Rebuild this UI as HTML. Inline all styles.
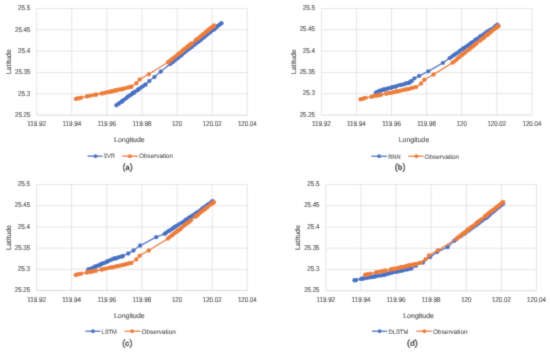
<!DOCTYPE html>
<html><head><meta charset="utf-8"><title>Trajectory prediction comparison</title>
<style>
html,body{margin:0;padding:0;background:#fff;}
body{width:550px;height:353px;overflow:hidden;}
svg{display:block;font-family:'Liberation Sans', Arial, sans-serif;text-rendering:geometricPrecision;}
</style></head>
<body>
<svg width="550" height="353" viewBox="0 0 550 353">
<defs><filter id="soft" x="0" y="0" width="550" height="353" filterUnits="userSpaceOnUse"><feConvolveMatrix order="3" kernelMatrix="1 2 1 2 16 2 1 2 1" divisor="28" edgeMode="duplicate"/></filter></defs>
<rect width="550" height="353" fill="#fff"/>
<g filter="url(#soft)">
<rect width="550" height="353" fill="#fff"/>
<g stroke="#DEDEDE" stroke-width="0.8"><line x1="36.70" y1="8.45" x2="36.70" y2="115.20"/><line x1="71.80" y1="8.45" x2="71.80" y2="115.20"/><line x1="106.90" y1="8.45" x2="106.90" y2="115.20"/><line x1="142.00" y1="8.45" x2="142.00" y2="115.20"/><line x1="177.10" y1="8.45" x2="177.10" y2="115.20"/><line x1="212.20" y1="8.45" x2="212.20" y2="115.20"/><line x1="247.30" y1="8.45" x2="247.30" y2="115.20"/><line x1="36.70" y1="8.45" x2="247.30" y2="8.45"/><line x1="36.70" y1="29.80" x2="247.30" y2="29.80"/><line x1="36.70" y1="51.15" x2="247.30" y2="51.15"/><line x1="36.70" y1="72.50" x2="247.30" y2="72.50"/><line x1="36.70" y1="93.85" x2="247.30" y2="93.85"/><line x1="36.70" y1="115.20" x2="247.30" y2="115.20" stroke="#D0D0D0"/></g>
<text x="18.00" y="10.15" font-size="7.2" text-anchor="start" fill="#4d4d4d" font-weight="normal" textLength="12.30" lengthAdjust="spacingAndGlyphs" stroke="#4d4d4d" stroke-width="0.15">25.5</text>
<text x="15.00" y="31.50" font-size="7.2" text-anchor="start" fill="#4d4d4d" font-weight="normal" textLength="15.30" lengthAdjust="spacingAndGlyphs" stroke="#4d4d4d" stroke-width="0.15">25.45</text>
<text x="18.00" y="52.85" font-size="7.2" text-anchor="start" fill="#4d4d4d" font-weight="normal" textLength="12.30" lengthAdjust="spacingAndGlyphs" stroke="#4d4d4d" stroke-width="0.15">25.4</text>
<text x="15.00" y="74.20" font-size="7.2" text-anchor="start" fill="#4d4d4d" font-weight="normal" textLength="15.30" lengthAdjust="spacingAndGlyphs" stroke="#4d4d4d" stroke-width="0.15">25.35</text>
<text x="18.00" y="95.55" font-size="7.2" text-anchor="start" fill="#4d4d4d" font-weight="normal" textLength="12.30" lengthAdjust="spacingAndGlyphs" stroke="#4d4d4d" stroke-width="0.15">25.3</text>
<text x="15.00" y="116.90" font-size="7.2" text-anchor="start" fill="#4d4d4d" font-weight="normal" textLength="15.30" lengthAdjust="spacingAndGlyphs" stroke="#4d4d4d" stroke-width="0.15">25.25</text>
<text x="27.30" y="126.40" font-size="7.2" text-anchor="start" fill="#4d4d4d" font-weight="normal" textLength="18.80" lengthAdjust="spacingAndGlyphs" stroke="#4d4d4d" stroke-width="0.15">119.92</text>
<text x="62.40" y="126.40" font-size="7.2" text-anchor="start" fill="#4d4d4d" font-weight="normal" textLength="18.80" lengthAdjust="spacingAndGlyphs" stroke="#4d4d4d" stroke-width="0.15">119.94</text>
<text x="97.50" y="126.40" font-size="7.2" text-anchor="start" fill="#4d4d4d" font-weight="normal" textLength="18.80" lengthAdjust="spacingAndGlyphs" stroke="#4d4d4d" stroke-width="0.15">119.96</text>
<text x="132.60" y="126.40" font-size="7.2" text-anchor="start" fill="#4d4d4d" font-weight="normal" textLength="18.80" lengthAdjust="spacingAndGlyphs" stroke="#4d4d4d" stroke-width="0.15">119.98</text>
<text x="171.95" y="126.40" font-size="7.2" text-anchor="start" fill="#4d4d4d" font-weight="normal" textLength="10.30" lengthAdjust="spacingAndGlyphs" stroke="#4d4d4d" stroke-width="0.15">120</text>
<text x="202.80" y="126.40" font-size="7.2" text-anchor="start" fill="#4d4d4d" font-weight="normal" textLength="18.80" lengthAdjust="spacingAndGlyphs" stroke="#4d4d4d" stroke-width="0.15">120.02</text>
<text x="237.90" y="126.40" font-size="7.2" text-anchor="start" fill="#4d4d4d" font-weight="normal" textLength="18.80" lengthAdjust="spacingAndGlyphs" stroke="#4d4d4d" stroke-width="0.15">120.04</text>
<text x="129.40" y="142.12" font-size="7.0" text-anchor="middle" fill="#4d4d4d" font-weight="normal" stroke="#4d4d4d" stroke-width="0.15">Longitude</text>
<text x="0" y="0" font-size="7.0" text-anchor="middle" fill="#4d4d4d" stroke="#4d4d4d" stroke-width="0.15" transform="translate(11.10,61.83) rotate(-90)">Latitude</text>
<polyline points="116.38,105.25 118.83,103.46 121.82,101.41 133.22,92.95 145.51,84.41 149.37,81.00 154.46,77.07 160.78,71.52 170.08,64.09 221.50,23.14" fill="none" stroke="#4472C4" stroke-width="1.4" stroke-linejoin="round"/>
<g fill="#4472C4"><circle cx="116.38" cy="105.25" r="2.20"/><circle cx="118.83" cy="103.46" r="2.20"/><circle cx="119.50" cy="103.16" r="2.03"/><circle cx="121.18" cy="102.00" r="2.10"/><circle cx="121.82" cy="101.41" r="2.20"/><circle cx="122.36" cy="101.22" r="2.19"/><circle cx="123.18" cy="100.16" r="2.05"/><circle cx="124.80" cy="99.37" r="1.98"/><circle cx="125.61" cy="98.46" r="2.04"/><circle cx="126.57" cy="98.08" r="1.98"/><circle cx="127.63" cy="96.86" r="2.16"/><circle cx="128.33" cy="96.34" r="2.09"/><circle cx="130.20" cy="95.26" r="2.16"/><circle cx="131.44" cy="94.54" r="1.98"/><circle cx="131.93" cy="93.96" r="2.08"/><circle cx="132.61" cy="93.18" r="2.11"/><circle cx="133.22" cy="92.95" r="2.20"/><circle cx="133.88" cy="92.75" r="2.24"/><circle cx="134.42" cy="91.86" r="2.16"/><circle cx="135.80" cy="91.30" r="1.92"/><circle cx="137.58" cy="90.05" r="2.21"/><circle cx="138.16" cy="89.54" r="2.19"/><circle cx="138.84" cy="89.14" r="2.09"/><circle cx="140.12" cy="88.19" r="2.04"/><circle cx="141.69" cy="87.04" r="2.12"/><circle cx="143.33" cy="85.98" r="2.00"/><circle cx="145.17" cy="84.91" r="1.98"/><circle cx="145.51" cy="84.41" r="2.20"/><circle cx="149.37" cy="81.00" r="2.20"/><circle cx="154.46" cy="77.07" r="2.20"/><circle cx="160.78" cy="71.52" r="2.20"/><circle cx="170.08" cy="64.09" r="2.20"/><circle cx="170.73" cy="63.58" r="2.08"/><circle cx="172.57" cy="62.22" r="2.10"/><circle cx="173.32" cy="61.50" r="2.21"/><circle cx="174.43" cy="60.35" r="2.00"/><circle cx="175.17" cy="60.05" r="2.22"/><circle cx="176.64" cy="58.60" r="2.20"/><circle cx="177.77" cy="58.20" r="2.03"/><circle cx="179.13" cy="56.89" r="1.96"/><circle cx="180.40" cy="56.08" r="2.05"/><circle cx="181.48" cy="54.98" r="2.23"/><circle cx="182.27" cy="54.36" r="2.17"/><circle cx="183.84" cy="53.06" r="2.00"/><circle cx="185.44" cy="51.68" r="2.22"/><circle cx="187.07" cy="50.28" r="1.99"/><circle cx="187.92" cy="49.74" r="2.12"/><circle cx="189.50" cy="48.61" r="1.95"/><circle cx="190.07" cy="48.04" r="2.01"/><circle cx="190.75" cy="47.42" r="2.10"/><circle cx="191.98" cy="46.73" r="2.19"/><circle cx="192.55" cy="45.99" r="1.99"/><circle cx="194.29" cy="45.00" r="1.96"/><circle cx="195.00" cy="44.19" r="1.90"/><circle cx="196.07" cy="43.42" r="2.08"/><circle cx="197.86" cy="42.09" r="2.22"/><circle cx="198.87" cy="41.22" r="2.16"/><circle cx="200.69" cy="39.92" r="2.22"/><circle cx="201.46" cy="39.03" r="2.09"/><circle cx="202.89" cy="38.13" r="2.05"/><circle cx="204.66" cy="36.82" r="2.20"/><circle cx="206.24" cy="35.29" r="2.07"/><circle cx="206.97" cy="34.54" r="2.22"/><circle cx="207.81" cy="33.88" r="2.12"/><circle cx="209.16" cy="32.73" r="2.18"/><circle cx="210.39" cy="32.14" r="2.12"/><circle cx="212.03" cy="30.50" r="2.05"/><circle cx="213.47" cy="29.77" r="2.17"/><circle cx="214.59" cy="28.88" r="2.19"/><circle cx="216.25" cy="27.60" r="2.14"/><circle cx="217.41" cy="26.26" r="2.24"/><circle cx="219.22" cy="24.93" r="2.09"/><circle cx="220.14" cy="24.27" r="2.08"/><circle cx="220.85" cy="23.52" r="1.93"/><circle cx="221.50" cy="23.14" r="2.20"/></g>
<polyline points="75.84,98.89 82.51,97.31 86.72,96.41 96.37,94.45 101.46,93.42 112.69,91.03 122.69,88.85 131.47,86.76 136.38,83.18 139.72,79.42 148.84,74.21 167.97,62.25 193.07,42.18 195.53,40.26 213.95,25.53" fill="none" stroke="#ED7D31" stroke-width="1.4" stroke-linejoin="round"/>
<g fill="#ED7D31"><circle cx="75.84" cy="98.89" r="2.20"/><circle cx="76.86" cy="98.48" r="1.91"/><circle cx="77.84" cy="98.24" r="2.10"/><circle cx="79.31" cy="98.26" r="2.23"/><circle cx="81.30" cy="97.73" r="2.14"/><circle cx="86.72" cy="96.41" r="2.20"/><circle cx="87.84" cy="96.18" r="2.07"/><circle cx="89.40" cy="95.91" r="2.07"/><circle cx="91.18" cy="95.39" r="1.98"/><circle cx="93.21" cy="95.15" r="1.97"/><circle cx="95.15" cy="94.71" r="2.21"/><circle cx="96.37" cy="94.45" r="2.20"/><circle cx="101.46" cy="93.42" r="2.20"/><circle cx="102.84" cy="93.34" r="2.14"/><circle cx="104.79" cy="92.88" r="2.03"/><circle cx="105.90" cy="92.56" r="2.03"/><circle cx="107.05" cy="92.20" r="2.11"/><circle cx="108.67" cy="92.07" r="2.24"/><circle cx="110.37" cy="91.65" r="2.16"/><circle cx="111.35" cy="91.48" r="2.20"/><circle cx="112.69" cy="91.03" r="2.20"/><circle cx="113.43" cy="90.81" r="2.05"/><circle cx="115.22" cy="90.45" r="2.21"/><circle cx="116.04" cy="90.48" r="2.22"/><circle cx="117.14" cy="89.90" r="2.18"/><circle cx="119.34" cy="89.51" r="2.22"/><circle cx="121.25" cy="89.23" r="2.04"/><circle cx="121.97" cy="89.20" r="2.19"/><circle cx="122.69" cy="88.85" r="2.20"/><circle cx="123.45" cy="88.84" r="2.23"/><circle cx="125.06" cy="88.21" r="1.98"/><circle cx="127.23" cy="87.65" r="2.09"/><circle cx="128.71" cy="87.34" r="1.96"/><circle cx="129.44" cy="87.37" r="2.11"/><circle cx="130.95" cy="86.66" r="2.22"/><circle cx="131.47" cy="86.76" r="2.20"/><circle cx="136.38" cy="83.18" r="2.20"/><circle cx="139.72" cy="79.42" r="2.20"/><circle cx="148.84" cy="74.21" r="2.20"/><circle cx="167.97" cy="62.25" r="2.20"/><circle cx="168.49" cy="61.78" r="2.02"/><circle cx="169.81" cy="60.80" r="1.95"/><circle cx="171.27" cy="59.62" r="2.15"/><circle cx="172.26" cy="58.95" r="2.00"/><circle cx="173.00" cy="58.29" r="2.09"/><circle cx="174.60" cy="57.02" r="1.95"/><circle cx="176.15" cy="55.76" r="1.94"/><circle cx="177.77" cy="54.24" r="2.11"/><circle cx="178.62" cy="53.95" r="2.00"/><circle cx="179.62" cy="53.21" r="2.07"/><circle cx="181.26" cy="51.72" r="2.23"/><circle cx="182.03" cy="51.23" r="2.01"/><circle cx="183.30" cy="49.74" r="2.00"/><circle cx="183.96" cy="49.20" r="2.19"/><circle cx="185.78" cy="47.84" r="1.95"/><circle cx="187.24" cy="46.75" r="2.23"/><circle cx="188.13" cy="46.15" r="2.09"/><circle cx="189.02" cy="45.49" r="1.93"/><circle cx="189.55" cy="44.89" r="2.05"/><circle cx="190.38" cy="44.59" r="2.23"/><circle cx="191.18" cy="43.86" r="2.24"/><circle cx="192.12" cy="43.14" r="1.95"/><circle cx="195.53" cy="40.26" r="2.20"/><circle cx="196.65" cy="39.32" r="2.06"/><circle cx="197.75" cy="38.50" r="2.00"/><circle cx="198.67" cy="38.02" r="2.14"/><circle cx="200.44" cy="36.56" r="2.17"/><circle cx="201.26" cy="35.43" r="1.98"/><circle cx="202.54" cy="34.67" r="1.95"/><circle cx="203.19" cy="34.07" r="2.10"/><circle cx="204.73" cy="32.95" r="2.03"/><circle cx="205.39" cy="32.44" r="2.12"/><circle cx="206.82" cy="31.31" r="2.18"/><circle cx="207.55" cy="30.66" r="2.04"/><circle cx="208.33" cy="29.90" r="2.03"/><circle cx="208.96" cy="29.54" r="2.17"/><circle cx="210.34" cy="28.15" r="2.08"/><circle cx="211.69" cy="27.24" r="2.01"/><circle cx="212.59" cy="26.84" r="2.22"/><circle cx="213.58" cy="25.95" r="2.00"/><circle cx="213.95" cy="25.53" r="2.20"/></g>
<line x1="87.6" y1="156.2" x2="102.4" y2="156.2" stroke="#4472C4" stroke-width="1.4"/>
<circle cx="95.5" cy="156.2" r="2.0" fill="#4472C4"/>
<text x="103.60" y="158.44" font-size="6.3" text-anchor="start" fill="#4d4d4d" font-weight="normal" textLength="11.30" lengthAdjust="spacingAndGlyphs" stroke="#4d4d4d" stroke-width="0.1">SVR</text>
<line x1="122.2" y1="156.2" x2="137.8" y2="156.2" stroke="#ED7D31" stroke-width="1.4"/>
<circle cx="130.0" cy="156.2" r="2.0" fill="#ED7D31"/>
<text x="139.10" y="158.44" font-size="6.3" text-anchor="start" fill="#4d4d4d" font-weight="normal" textLength="34.00" lengthAdjust="spacingAndGlyphs" stroke="#4d4d4d" stroke-width="0.1">Observation</text>
<text y="170.25" font-size="9" fill="#404040" stroke="#404040" stroke-width="0.4"><tspan x="122.40">(</tspan><tspan x="125.23" dy="-0.1" font-size="8.0" font-weight="bold" stroke-width="0.2">a</tspan><tspan x="129.72" dy="0.1">)</tspan></text>
<g stroke="#DEDEDE" stroke-width="0.8"><line x1="321.40" y1="8.45" x2="321.40" y2="115.10"/><line x1="356.48" y1="8.45" x2="356.48" y2="115.10"/><line x1="391.57" y1="8.45" x2="391.57" y2="115.10"/><line x1="426.65" y1="8.45" x2="426.65" y2="115.10"/><line x1="461.73" y1="8.45" x2="461.73" y2="115.10"/><line x1="496.82" y1="8.45" x2="496.82" y2="115.10"/><line x1="531.90" y1="8.45" x2="531.90" y2="115.10"/><line x1="321.40" y1="8.45" x2="531.90" y2="8.45"/><line x1="321.40" y1="29.78" x2="531.90" y2="29.78"/><line x1="321.40" y1="51.11" x2="531.90" y2="51.11"/><line x1="321.40" y1="72.44" x2="531.90" y2="72.44"/><line x1="321.40" y1="93.77" x2="531.90" y2="93.77"/><line x1="321.40" y1="115.10" x2="531.90" y2="115.10" stroke="#D0D0D0"/></g>
<text x="302.70" y="10.15" font-size="7.2" text-anchor="start" fill="#4d4d4d" font-weight="normal" textLength="12.30" lengthAdjust="spacingAndGlyphs" stroke="#4d4d4d" stroke-width="0.15">25.5</text>
<text x="299.70" y="31.48" font-size="7.2" text-anchor="start" fill="#4d4d4d" font-weight="normal" textLength="15.30" lengthAdjust="spacingAndGlyphs" stroke="#4d4d4d" stroke-width="0.15">25.45</text>
<text x="302.70" y="52.81" font-size="7.2" text-anchor="start" fill="#4d4d4d" font-weight="normal" textLength="12.30" lengthAdjust="spacingAndGlyphs" stroke="#4d4d4d" stroke-width="0.15">25.4</text>
<text x="299.70" y="74.14" font-size="7.2" text-anchor="start" fill="#4d4d4d" font-weight="normal" textLength="15.30" lengthAdjust="spacingAndGlyphs" stroke="#4d4d4d" stroke-width="0.15">25.35</text>
<text x="302.70" y="95.47" font-size="7.2" text-anchor="start" fill="#4d4d4d" font-weight="normal" textLength="12.30" lengthAdjust="spacingAndGlyphs" stroke="#4d4d4d" stroke-width="0.15">25.3</text>
<text x="299.70" y="116.80" font-size="7.2" text-anchor="start" fill="#4d4d4d" font-weight="normal" textLength="15.30" lengthAdjust="spacingAndGlyphs" stroke="#4d4d4d" stroke-width="0.15">25.25</text>
<text x="312.00" y="126.30" font-size="7.2" text-anchor="start" fill="#4d4d4d" font-weight="normal" textLength="18.80" lengthAdjust="spacingAndGlyphs" stroke="#4d4d4d" stroke-width="0.15">119.92</text>
<text x="347.08" y="126.30" font-size="7.2" text-anchor="start" fill="#4d4d4d" font-weight="normal" textLength="18.80" lengthAdjust="spacingAndGlyphs" stroke="#4d4d4d" stroke-width="0.15">119.94</text>
<text x="382.17" y="126.30" font-size="7.2" text-anchor="start" fill="#4d4d4d" font-weight="normal" textLength="18.80" lengthAdjust="spacingAndGlyphs" stroke="#4d4d4d" stroke-width="0.15">119.96</text>
<text x="417.25" y="126.30" font-size="7.2" text-anchor="start" fill="#4d4d4d" font-weight="normal" textLength="18.80" lengthAdjust="spacingAndGlyphs" stroke="#4d4d4d" stroke-width="0.15">119.98</text>
<text x="456.58" y="126.30" font-size="7.2" text-anchor="start" fill="#4d4d4d" font-weight="normal" textLength="10.30" lengthAdjust="spacingAndGlyphs" stroke="#4d4d4d" stroke-width="0.15">120</text>
<text x="487.42" y="126.30" font-size="7.2" text-anchor="start" fill="#4d4d4d" font-weight="normal" textLength="18.80" lengthAdjust="spacingAndGlyphs" stroke="#4d4d4d" stroke-width="0.15">120.02</text>
<text x="522.50" y="126.30" font-size="7.2" text-anchor="start" fill="#4d4d4d" font-weight="normal" textLength="18.80" lengthAdjust="spacingAndGlyphs" stroke="#4d4d4d" stroke-width="0.15">120.04</text>
<text x="414.05" y="142.02" font-size="7.0" text-anchor="middle" fill="#4d4d4d" font-weight="normal" stroke="#4d4d4d" stroke-width="0.15">Longitude</text>
<text x="0" y="0" font-size="7.0" text-anchor="middle" fill="#4d4d4d" stroke="#4d4d4d" stroke-width="0.15" transform="translate(295.80,61.77) rotate(-90)">Latitude</text>
<polyline points="375.78,92.63 383.15,89.69 392.09,87.26 400.69,84.96 408.41,82.99 411.56,81.16 414.37,78.34 419.28,75.87 428.23,71.35 442.96,62.86 449.63,58.08 478.22,38.16 479.80,37.05 497.34,24.80" fill="none" stroke="#4472C4" stroke-width="1.4" stroke-linejoin="round"/>
<g fill="#4472C4"><circle cx="375.78" cy="92.63" r="2.20"/><circle cx="376.66" cy="92.44" r="2.02"/><circle cx="377.34" cy="92.00" r="2.15"/><circle cx="378.93" cy="91.17" r="2.07"/><circle cx="379.87" cy="90.78" r="2.24"/><circle cx="381.62" cy="90.24" r="2.17"/><circle cx="383.15" cy="89.69" r="2.20"/><circle cx="383.62" cy="89.51" r="2.01"/><circle cx="384.41" cy="89.46" r="2.20"/><circle cx="385.85" cy="89.11" r="2.09"/><circle cx="387.11" cy="88.64" r="2.18"/><circle cx="388.20" cy="88.32" r="1.94"/><circle cx="389.73" cy="87.99" r="2.04"/><circle cx="390.59" cy="87.84" r="2.17"/><circle cx="392.09" cy="87.26" r="2.20"/><circle cx="392.80" cy="87.30" r="2.07"/><circle cx="393.67" cy="86.74" r="1.93"/><circle cx="395.67" cy="86.50" r="2.22"/><circle cx="397.40" cy="85.85" r="2.03"/><circle cx="399.05" cy="85.17" r="1.92"/><circle cx="400.69" cy="84.96" r="2.20"/><circle cx="401.58" cy="84.95" r="2.14"/><circle cx="402.28" cy="84.60" r="1.91"/><circle cx="404.45" cy="84.09" r="2.17"/><circle cx="405.62" cy="83.49" r="2.16"/><circle cx="407.39" cy="83.18" r="1.97"/><circle cx="408.41" cy="82.99" r="2.20"/><circle cx="409.19" cy="82.63" r="2.21"/><circle cx="410.60" cy="81.53" r="2.20"/><circle cx="411.56" cy="81.16" r="2.20"/><circle cx="414.37" cy="78.34" r="2.20"/><circle cx="419.28" cy="75.87" r="2.20"/><circle cx="428.23" cy="71.35" r="2.20"/><circle cx="442.96" cy="62.86" r="2.20"/><circle cx="449.63" cy="58.08" r="2.20"/><circle cx="450.86" cy="57.31" r="1.93"/><circle cx="451.58" cy="56.87" r="1.94"/><circle cx="453.16" cy="55.47" r="2.06"/><circle cx="454.13" cy="55.03" r="2.13"/><circle cx="455.04" cy="54.30" r="2.07"/><circle cx="456.56" cy="53.47" r="2.05"/><circle cx="457.17" cy="53.05" r="2.15"/><circle cx="457.91" cy="52.40" r="1.92"/><circle cx="459.68" cy="50.94" r="2.16"/><circle cx="460.82" cy="50.34" r="2.09"/><circle cx="462.64" cy="49.00" r="2.19"/><circle cx="463.84" cy="48.09" r="2.19"/><circle cx="464.53" cy="47.52" r="2.01"/><circle cx="465.88" cy="46.80" r="1.97"/><circle cx="466.44" cy="46.35" r="1.92"/><circle cx="467.84" cy="45.64" r="2.19"/><circle cx="468.49" cy="45.00" r="2.02"/><circle cx="470.11" cy="43.87" r="2.04"/><circle cx="470.95" cy="43.04" r="2.12"/><circle cx="471.97" cy="42.61" r="2.23"/><circle cx="472.98" cy="41.90" r="2.15"/><circle cx="474.33" cy="41.13" r="1.91"/><circle cx="475.27" cy="40.03" r="2.19"/><circle cx="476.92" cy="39.21" r="2.09"/><circle cx="477.32" cy="38.56" r="2.05"/><circle cx="479.80" cy="37.05" r="2.20"/><circle cx="480.24" cy="36.57" r="2.24"/><circle cx="481.54" cy="35.93" r="2.14"/><circle cx="483.32" cy="34.75" r="2.21"/><circle cx="484.41" cy="34.10" r="2.21"/><circle cx="485.31" cy="33.05" r="1.95"/><circle cx="486.11" cy="32.55" r="1.96"/><circle cx="487.28" cy="31.77" r="2.15"/><circle cx="488.71" cy="30.62" r="1.92"/><circle cx="490.24" cy="29.85" r="2.20"/><circle cx="491.67" cy="28.95" r="1.93"/><circle cx="493.34" cy="27.83" r="1.91"/><circle cx="494.24" cy="27.21" r="1.97"/><circle cx="495.35" cy="25.96" r="1.96"/><circle cx="496.53" cy="25.58" r="1.97"/><circle cx="497.34" cy="24.80" r="2.20"/></g>
<polyline points="360.52,99.20 367.18,97.63 371.39,96.73 381.04,94.77 386.13,93.74 397.36,91.35 407.35,89.18 416.13,87.09 421.04,83.51 424.37,79.75 433.49,74.55 452.61,62.60 477.70,42.55 480.15,40.63 498.57,25.91" fill="none" stroke="#ED7D31" stroke-width="1.4" stroke-linejoin="round"/>
<g fill="#ED7D31"><circle cx="360.52" cy="99.20" r="2.20"/><circle cx="361.08" cy="99.17" r="1.94"/><circle cx="362.90" cy="98.63" r="1.92"/><circle cx="364.03" cy="98.34" r="2.22"/><circle cx="365.95" cy="97.70" r="2.07"/><circle cx="371.39" cy="96.73" r="2.20"/><circle cx="372.68" cy="96.40" r="2.01"/><circle cx="374.32" cy="95.95" r="2.14"/><circle cx="376.61" cy="95.75" r="2.04"/><circle cx="377.60" cy="95.57" r="2.05"/><circle cx="378.43" cy="95.20" r="2.19"/><circle cx="379.74" cy="95.12" r="1.98"/><circle cx="381.04" cy="94.77" r="2.20"/><circle cx="386.13" cy="93.74" r="2.20"/><circle cx="386.79" cy="93.40" r="1.98"/><circle cx="388.89" cy="93.10" r="2.11"/><circle cx="390.33" cy="92.77" r="2.06"/><circle cx="391.60" cy="92.80" r="2.20"/><circle cx="393.61" cy="92.19" r="2.17"/><circle cx="394.36" cy="92.05" r="1.90"/><circle cx="395.62" cy="91.58" r="2.00"/><circle cx="396.34" cy="91.45" r="1.94"/><circle cx="397.36" cy="91.35" r="2.20"/><circle cx="398.71" cy="91.15" r="2.15"/><circle cx="399.58" cy="91.00" r="2.11"/><circle cx="400.85" cy="90.51" r="1.92"/><circle cx="402.50" cy="90.34" r="2.03"/><circle cx="404.52" cy="89.65" r="2.24"/><circle cx="406.61" cy="89.31" r="2.03"/><circle cx="407.35" cy="89.18" r="2.20"/><circle cx="408.56" cy="88.90" r="2.02"/><circle cx="409.56" cy="88.64" r="2.00"/><circle cx="410.83" cy="88.29" r="1.98"/><circle cx="412.05" cy="87.99" r="2.20"/><circle cx="413.03" cy="87.62" r="1.98"/><circle cx="414.57" cy="87.29" r="2.01"/><circle cx="416.13" cy="87.09" r="2.20"/><circle cx="421.04" cy="83.51" r="2.20"/><circle cx="424.37" cy="79.75" r="2.20"/><circle cx="433.49" cy="74.55" r="2.20"/><circle cx="452.61" cy="62.60" r="2.20"/><circle cx="453.43" cy="61.96" r="2.04"/><circle cx="454.73" cy="61.18" r="1.99"/><circle cx="456.40" cy="59.71" r="2.07"/><circle cx="457.58" cy="58.47" r="2.10"/><circle cx="459.39" cy="57.27" r="2.08"/><circle cx="460.33" cy="56.22" r="1.95"/><circle cx="461.85" cy="54.94" r="2.17"/><circle cx="462.86" cy="54.28" r="2.16"/><circle cx="464.07" cy="53.42" r="1.99"/><circle cx="465.26" cy="52.32" r="2.17"/><circle cx="466.82" cy="51.24" r="1.93"/><circle cx="467.97" cy="50.35" r="2.00"/><circle cx="469.40" cy="49.38" r="2.14"/><circle cx="470.39" cy="48.27" r="2.01"/><circle cx="471.16" cy="47.51" r="1.97"/><circle cx="472.01" cy="47.27" r="2.05"/><circle cx="473.69" cy="45.87" r="2.17"/><circle cx="474.13" cy="45.26" r="2.08"/><circle cx="474.95" cy="44.71" r="1.96"/><circle cx="476.00" cy="43.82" r="2.12"/><circle cx="476.68" cy="43.14" r="2.15"/><circle cx="480.15" cy="40.63" r="2.20"/><circle cx="480.98" cy="39.81" r="1.95"/><circle cx="482.69" cy="38.58" r="2.06"/><circle cx="483.39" cy="38.11" r="2.16"/><circle cx="484.11" cy="37.67" r="1.98"/><circle cx="485.59" cy="36.03" r="1.97"/><circle cx="486.38" cy="35.47" r="2.11"/><circle cx="487.10" cy="35.02" r="2.20"/><circle cx="487.87" cy="34.62" r="2.12"/><circle cx="488.59" cy="33.81" r="2.24"/><circle cx="490.23" cy="32.62" r="2.07"/><circle cx="490.97" cy="32.11" r="2.05"/><circle cx="492.46" cy="30.68" r="2.12"/><circle cx="494.03" cy="29.29" r="2.04"/><circle cx="494.80" cy="28.96" r="1.93"/><circle cx="496.43" cy="27.46" r="2.21"/><circle cx="497.27" cy="27.17" r="2.05"/><circle cx="498.32" cy="26.36" r="2.18"/><circle cx="498.57" cy="25.91" r="2.20"/></g>
<line x1="371.3" y1="156.3" x2="386.9" y2="156.3" stroke="#4472C4" stroke-width="1.4"/>
<circle cx="379.1" cy="156.3" r="2.0" fill="#4472C4"/>
<text x="388.20" y="158.54" font-size="6.3" text-anchor="start" fill="#4d4d4d" font-weight="normal" textLength="12.30" lengthAdjust="spacingAndGlyphs" stroke="#4d4d4d" stroke-width="0.1">RNN</text>
<line x1="408.2" y1="156.3" x2="423.6" y2="156.3" stroke="#ED7D31" stroke-width="1.4"/>
<circle cx="416.4" cy="156.3" r="2.0" fill="#ED7D31"/>
<text x="424.50" y="158.54" font-size="6.3" text-anchor="start" fill="#4d4d4d" font-weight="normal" textLength="34.60" lengthAdjust="spacingAndGlyphs" stroke="#4d4d4d" stroke-width="0.1">Observation</text>
<text y="170.20" font-size="9" fill="#404040" stroke="#404040" stroke-width="0.4"><tspan x="394.70">(</tspan><tspan x="397.56" dy="-0.1" font-size="8.0" font-weight="bold" stroke-width="0.2">b</tspan><tspan x="402.52" dy="0.1">)</tspan></text>
<g stroke="#DEDEDE" stroke-width="0.8"><line x1="36.55" y1="184.45" x2="36.55" y2="290.50"/><line x1="71.67" y1="184.45" x2="71.67" y2="290.50"/><line x1="106.80" y1="184.45" x2="106.80" y2="290.50"/><line x1="141.93" y1="184.45" x2="141.93" y2="290.50"/><line x1="177.05" y1="184.45" x2="177.05" y2="290.50"/><line x1="212.18" y1="184.45" x2="212.18" y2="290.50"/><line x1="247.30" y1="184.45" x2="247.30" y2="290.50"/><line x1="36.55" y1="184.45" x2="247.30" y2="184.45"/><line x1="36.55" y1="205.66" x2="247.30" y2="205.66"/><line x1="36.55" y1="226.87" x2="247.30" y2="226.87"/><line x1="36.55" y1="248.08" x2="247.30" y2="248.08"/><line x1="36.55" y1="269.29" x2="247.30" y2="269.29"/><line x1="36.55" y1="290.50" x2="247.30" y2="290.50" stroke="#D0D0D0"/></g>
<text x="17.85" y="186.15" font-size="7.2" text-anchor="start" fill="#4d4d4d" font-weight="normal" textLength="12.30" lengthAdjust="spacingAndGlyphs" stroke="#4d4d4d" stroke-width="0.15">25.5</text>
<text x="14.85" y="207.36" font-size="7.2" text-anchor="start" fill="#4d4d4d" font-weight="normal" textLength="15.30" lengthAdjust="spacingAndGlyphs" stroke="#4d4d4d" stroke-width="0.15">25.45</text>
<text x="17.85" y="228.57" font-size="7.2" text-anchor="start" fill="#4d4d4d" font-weight="normal" textLength="12.30" lengthAdjust="spacingAndGlyphs" stroke="#4d4d4d" stroke-width="0.15">25.4</text>
<text x="14.85" y="249.78" font-size="7.2" text-anchor="start" fill="#4d4d4d" font-weight="normal" textLength="15.30" lengthAdjust="spacingAndGlyphs" stroke="#4d4d4d" stroke-width="0.15">25.35</text>
<text x="17.85" y="270.99" font-size="7.2" text-anchor="start" fill="#4d4d4d" font-weight="normal" textLength="12.30" lengthAdjust="spacingAndGlyphs" stroke="#4d4d4d" stroke-width="0.15">25.3</text>
<text x="14.85" y="292.20" font-size="7.2" text-anchor="start" fill="#4d4d4d" font-weight="normal" textLength="15.30" lengthAdjust="spacingAndGlyphs" stroke="#4d4d4d" stroke-width="0.15">25.25</text>
<text x="27.15" y="301.70" font-size="7.2" text-anchor="start" fill="#4d4d4d" font-weight="normal" textLength="18.80" lengthAdjust="spacingAndGlyphs" stroke="#4d4d4d" stroke-width="0.15">119.92</text>
<text x="62.27" y="301.70" font-size="7.2" text-anchor="start" fill="#4d4d4d" font-weight="normal" textLength="18.80" lengthAdjust="spacingAndGlyphs" stroke="#4d4d4d" stroke-width="0.15">119.94</text>
<text x="97.40" y="301.70" font-size="7.2" text-anchor="start" fill="#4d4d4d" font-weight="normal" textLength="18.80" lengthAdjust="spacingAndGlyphs" stroke="#4d4d4d" stroke-width="0.15">119.96</text>
<text x="132.53" y="301.70" font-size="7.2" text-anchor="start" fill="#4d4d4d" font-weight="normal" textLength="18.80" lengthAdjust="spacingAndGlyphs" stroke="#4d4d4d" stroke-width="0.15">119.98</text>
<text x="171.90" y="301.70" font-size="7.2" text-anchor="start" fill="#4d4d4d" font-weight="normal" textLength="10.30" lengthAdjust="spacingAndGlyphs" stroke="#4d4d4d" stroke-width="0.15">120</text>
<text x="202.78" y="301.70" font-size="7.2" text-anchor="start" fill="#4d4d4d" font-weight="normal" textLength="18.80" lengthAdjust="spacingAndGlyphs" stroke="#4d4d4d" stroke-width="0.15">120.02</text>
<text x="237.90" y="301.70" font-size="7.2" text-anchor="start" fill="#4d4d4d" font-weight="normal" textLength="18.80" lengthAdjust="spacingAndGlyphs" stroke="#4d4d4d" stroke-width="0.15">120.04</text>
<text x="129.33" y="318.32" font-size="7.0" text-anchor="middle" fill="#4d4d4d" font-weight="normal" stroke="#4d4d4d" stroke-width="0.15">Longitude</text>
<text x="0" y="0" font-size="7.0" text-anchor="middle" fill="#4d4d4d" stroke="#4d4d4d" stroke-width="0.15" transform="translate(10.95,237.47) rotate(-90)">Latitude</text>
<polyline points="88.18,269.57 99.60,264.90 107.33,261.38 113.82,258.71 122.96,255.99 128.23,253.45 133.49,250.52 140.17,245.56 156.15,237.16 164.58,233.85 195.14,213.83 212.70,201.10" fill="none" stroke="#4472C4" stroke-width="1.4" stroke-linejoin="round"/>
<g fill="#4472C4"><circle cx="88.18" cy="269.57" r="2.20"/><circle cx="89.01" cy="269.09" r="1.96"/><circle cx="90.12" cy="268.90" r="1.99"/><circle cx="91.32" cy="268.37" r="2.09"/><circle cx="93.33" cy="267.46" r="2.05"/><circle cx="94.84" cy="266.71" r="2.22"/><circle cx="96.07" cy="266.29" r="2.14"/><circle cx="96.99" cy="266.04" r="2.20"/><circle cx="98.18" cy="265.69" r="2.09"/><circle cx="99.60" cy="264.90" r="2.20"/><circle cx="100.51" cy="264.44" r="1.99"/><circle cx="101.12" cy="264.06" r="2.25"/><circle cx="102.58" cy="263.52" r="2.22"/><circle cx="104.19" cy="263.04" r="2.03"/><circle cx="105.13" cy="262.58" r="1.96"/><circle cx="106.86" cy="261.64" r="2.24"/><circle cx="107.33" cy="261.38" r="2.20"/><circle cx="108.38" cy="260.72" r="1.91"/><circle cx="109.86" cy="260.49" r="1.93"/><circle cx="111.02" cy="259.66" r="2.01"/><circle cx="111.71" cy="259.49" r="2.08"/><circle cx="112.73" cy="259.29" r="1.92"/><circle cx="113.82" cy="258.71" r="2.20"/><circle cx="114.56" cy="258.44" r="2.17"/><circle cx="115.81" cy="258.20" r="2.22"/><circle cx="116.71" cy="258.02" r="2.11"/><circle cx="118.49" cy="257.37" r="2.04"/><circle cx="119.25" cy="256.93" r="1.96"/><circle cx="120.20" cy="256.65" r="1.97"/><circle cx="121.81" cy="256.46" r="2.18"/><circle cx="122.96" cy="255.99" r="2.20"/><circle cx="128.23" cy="253.45" r="2.20"/><circle cx="133.49" cy="250.52" r="2.20"/><circle cx="140.17" cy="245.56" r="2.20"/><circle cx="156.15" cy="237.16" r="2.20"/><circle cx="164.58" cy="233.85" r="2.20"/><circle cx="165.18" cy="233.62" r="1.97"/><circle cx="165.74" cy="232.98" r="2.10"/><circle cx="166.37" cy="232.53" r="2.04"/><circle cx="168.10" cy="231.49" r="2.04"/><circle cx="169.11" cy="230.67" r="2.21"/><circle cx="171.08" cy="229.71" r="2.04"/><circle cx="172.16" cy="228.78" r="2.13"/><circle cx="173.62" cy="227.83" r="2.21"/><circle cx="175.15" cy="226.78" r="2.18"/><circle cx="176.64" cy="225.81" r="2.00"/><circle cx="178.19" cy="224.71" r="2.05"/><circle cx="180.11" cy="223.54" r="2.08"/><circle cx="182.06" cy="222.59" r="2.18"/><circle cx="183.37" cy="221.76" r="1.99"/><circle cx="185.01" cy="220.41" r="2.13"/><circle cx="186.39" cy="219.45" r="2.14"/><circle cx="187.95" cy="218.79" r="2.13"/><circle cx="188.98" cy="217.80" r="2.21"/><circle cx="190.10" cy="217.22" r="2.14"/><circle cx="191.86" cy="215.81" r="2.13"/><circle cx="192.78" cy="215.44" r="2.13"/><circle cx="194.42" cy="214.49" r="1.98"/><circle cx="195.14" cy="213.83" r="2.20"/><circle cx="195.83" cy="213.27" r="1.94"/><circle cx="196.98" cy="212.22" r="2.01"/><circle cx="198.61" cy="211.45" r="1.96"/><circle cx="200.11" cy="210.19" r="1.97"/><circle cx="201.73" cy="209.18" r="2.06"/><circle cx="202.95" cy="208.23" r="2.12"/><circle cx="204.55" cy="207.15" r="1.97"/><circle cx="204.97" cy="206.49" r="2.01"/><circle cx="206.51" cy="205.84" r="2.05"/><circle cx="207.45" cy="204.94" r="2.23"/><circle cx="208.71" cy="203.88" r="2.16"/><circle cx="210.69" cy="202.72" r="2.04"/><circle cx="211.40" cy="202.02" r="1.94"/><circle cx="212.13" cy="201.49" r="2.20"/><circle cx="212.70" cy="201.10" r="2.20"/></g>
<polyline points="75.71,275.00 82.39,273.43 86.60,272.54 96.26,270.58 101.36,269.57 112.60,267.19 122.61,265.03 131.39,262.95 136.30,259.39 139.64,255.65 148.77,250.48 167.92,238.60 193.03,218.66 195.49,216.75 213.93,202.12" fill="none" stroke="#ED7D31" stroke-width="1.4" stroke-linejoin="round"/>
<g fill="#ED7D31"><circle cx="75.71" cy="275.00" r="2.20"/><circle cx="76.56" cy="274.75" r="2.00"/><circle cx="78.31" cy="274.16" r="2.14"/><circle cx="79.56" cy="273.97" r="2.10"/><circle cx="81.46" cy="273.59" r="2.08"/><circle cx="86.60" cy="272.54" r="2.20"/><circle cx="87.84" cy="272.28" r="1.98"/><circle cx="89.32" cy="272.03" r="2.20"/><circle cx="90.48" cy="271.70" r="2.16"/><circle cx="91.88" cy="271.60" r="2.03"/><circle cx="92.87" cy="271.41" r="2.00"/><circle cx="94.82" cy="271.09" r="2.12"/><circle cx="96.26" cy="270.58" r="2.20"/><circle cx="101.36" cy="269.57" r="2.20"/><circle cx="102.66" cy="269.32" r="2.20"/><circle cx="104.76" cy="268.81" r="2.10"/><circle cx="105.60" cy="268.68" r="2.10"/><circle cx="107.78" cy="268.33" r="1.90"/><circle cx="109.61" cy="267.68" r="2.16"/><circle cx="111.91" cy="267.45" r="2.10"/><circle cx="112.60" cy="267.19" r="2.20"/><circle cx="113.97" cy="266.71" r="1.94"/><circle cx="116.04" cy="266.49" r="2.15"/><circle cx="117.12" cy="266.22" r="2.03"/><circle cx="118.55" cy="265.88" r="2.20"/><circle cx="119.94" cy="265.61" r="2.23"/><circle cx="122.09" cy="265.01" r="2.02"/><circle cx="122.61" cy="265.03" r="2.20"/><circle cx="124.12" cy="264.76" r="2.10"/><circle cx="125.42" cy="264.27" r="2.22"/><circle cx="126.43" cy="263.90" r="1.94"/><circle cx="127.35" cy="263.83" r="2.01"/><circle cx="128.38" cy="263.59" r="2.05"/><circle cx="129.83" cy="263.11" r="2.15"/><circle cx="131.39" cy="262.95" r="2.20"/><circle cx="136.30" cy="259.39" r="2.20"/><circle cx="139.64" cy="255.65" r="2.20"/><circle cx="148.77" cy="250.48" r="2.20"/><circle cx="167.92" cy="238.60" r="2.20"/><circle cx="168.81" cy="237.63" r="2.03"/><circle cx="170.44" cy="236.48" r="1.97"/><circle cx="171.99" cy="235.20" r="2.25"/><circle cx="173.71" cy="233.91" r="2.09"/><circle cx="175.19" cy="232.63" r="2.21"/><circle cx="176.62" cy="231.73" r="2.20"/><circle cx="177.87" cy="230.80" r="2.24"/><circle cx="179.58" cy="229.46" r="2.20"/><circle cx="180.55" cy="228.81" r="1.95"/><circle cx="181.12" cy="228.39" r="2.05"/><circle cx="182.06" cy="227.15" r="2.01"/><circle cx="183.92" cy="225.80" r="1.92"/><circle cx="184.48" cy="225.25" r="1.95"/><circle cx="185.77" cy="224.36" r="2.09"/><circle cx="186.93" cy="223.43" r="2.06"/><circle cx="188.07" cy="222.83" r="2.03"/><circle cx="189.00" cy="221.87" r="2.17"/><circle cx="189.93" cy="221.27" r="2.06"/><circle cx="191.17" cy="220.22" r="1.97"/><circle cx="195.49" cy="216.75" r="2.20"/><circle cx="196.57" cy="215.73" r="2.09"/><circle cx="197.54" cy="215.33" r="2.17"/><circle cx="198.54" cy="214.24" r="2.08"/><circle cx="199.74" cy="213.30" r="2.07"/><circle cx="201.43" cy="211.80" r="2.24"/><circle cx="203.14" cy="210.51" r="2.06"/><circle cx="204.25" cy="209.53" r="1.91"/><circle cx="205.08" cy="209.27" r="2.16"/><circle cx="206.77" cy="207.92" r="2.13"/><circle cx="208.24" cy="206.70" r="1.90"/><circle cx="209.80" cy="205.29" r="2.03"/><circle cx="211.19" cy="204.21" r="2.01"/><circle cx="212.07" cy="203.84" r="2.10"/><circle cx="213.62" cy="202.46" r="2.20"/><circle cx="213.93" cy="202.12" r="2.20"/></g>
<line x1="85.3" y1="331.3" x2="100.5" y2="331.3" stroke="#4472C4" stroke-width="1.4"/>
<circle cx="92.9" cy="331.3" r="2.0" fill="#4472C4"/>
<text x="101.60" y="333.54" font-size="6.3" text-anchor="start" fill="#4d4d4d" font-weight="normal" textLength="15.30" lengthAdjust="spacingAndGlyphs" stroke="#4d4d4d" stroke-width="0.1">LSTM</text>
<line x1="124.5" y1="331.3" x2="140.5" y2="331.3" stroke="#ED7D31" stroke-width="1.4"/>
<circle cx="132.2" cy="331.3" r="2.0" fill="#ED7D31"/>
<text x="141.60" y="333.54" font-size="6.3" text-anchor="start" fill="#4d4d4d" font-weight="normal" textLength="34.20" lengthAdjust="spacingAndGlyphs" stroke="#4d4d4d" stroke-width="0.1">Observation</text>
<text y="346.35" font-size="9" fill="#404040" stroke="#404040" stroke-width="0.4"><tspan x="122.15">(</tspan><tspan x="124.98" dy="-0.1" font-size="8.0" font-weight="bold" stroke-width="0.2">c</tspan><tspan x="129.47" dy="0.1">)</tspan></text>
<g stroke="#DEDEDE" stroke-width="0.8"><line x1="325.90" y1="184.45" x2="325.90" y2="290.70"/><line x1="361.00" y1="184.45" x2="361.00" y2="290.70"/><line x1="396.10" y1="184.45" x2="396.10" y2="290.70"/><line x1="431.20" y1="184.45" x2="431.20" y2="290.70"/><line x1="466.30" y1="184.45" x2="466.30" y2="290.70"/><line x1="501.40" y1="184.45" x2="501.40" y2="290.70"/><line x1="536.50" y1="184.45" x2="536.50" y2="290.70"/><line x1="325.90" y1="184.45" x2="536.50" y2="184.45"/><line x1="325.90" y1="205.70" x2="536.50" y2="205.70"/><line x1="325.90" y1="226.95" x2="536.50" y2="226.95"/><line x1="325.90" y1="248.20" x2="536.50" y2="248.20"/><line x1="325.90" y1="269.45" x2="536.50" y2="269.45"/><line x1="325.90" y1="290.70" x2="536.50" y2="290.70" stroke="#D0D0D0"/></g>
<text x="307.20" y="186.15" font-size="7.2" text-anchor="start" fill="#4d4d4d" font-weight="normal" textLength="12.30" lengthAdjust="spacingAndGlyphs" stroke="#4d4d4d" stroke-width="0.15">25.5</text>
<text x="304.20" y="207.40" font-size="7.2" text-anchor="start" fill="#4d4d4d" font-weight="normal" textLength="15.30" lengthAdjust="spacingAndGlyphs" stroke="#4d4d4d" stroke-width="0.15">25.45</text>
<text x="307.20" y="228.65" font-size="7.2" text-anchor="start" fill="#4d4d4d" font-weight="normal" textLength="12.30" lengthAdjust="spacingAndGlyphs" stroke="#4d4d4d" stroke-width="0.15">25.4</text>
<text x="304.20" y="249.90" font-size="7.2" text-anchor="start" fill="#4d4d4d" font-weight="normal" textLength="15.30" lengthAdjust="spacingAndGlyphs" stroke="#4d4d4d" stroke-width="0.15">25.35</text>
<text x="307.20" y="271.15" font-size="7.2" text-anchor="start" fill="#4d4d4d" font-weight="normal" textLength="12.30" lengthAdjust="spacingAndGlyphs" stroke="#4d4d4d" stroke-width="0.15">25.3</text>
<text x="304.20" y="292.40" font-size="7.2" text-anchor="start" fill="#4d4d4d" font-weight="normal" textLength="15.30" lengthAdjust="spacingAndGlyphs" stroke="#4d4d4d" stroke-width="0.15">25.25</text>
<text x="316.50" y="301.90" font-size="7.2" text-anchor="start" fill="#4d4d4d" font-weight="normal" textLength="18.80" lengthAdjust="spacingAndGlyphs" stroke="#4d4d4d" stroke-width="0.15">119.92</text>
<text x="351.60" y="301.90" font-size="7.2" text-anchor="start" fill="#4d4d4d" font-weight="normal" textLength="18.80" lengthAdjust="spacingAndGlyphs" stroke="#4d4d4d" stroke-width="0.15">119.94</text>
<text x="386.70" y="301.90" font-size="7.2" text-anchor="start" fill="#4d4d4d" font-weight="normal" textLength="18.80" lengthAdjust="spacingAndGlyphs" stroke="#4d4d4d" stroke-width="0.15">119.96</text>
<text x="421.80" y="301.90" font-size="7.2" text-anchor="start" fill="#4d4d4d" font-weight="normal" textLength="18.80" lengthAdjust="spacingAndGlyphs" stroke="#4d4d4d" stroke-width="0.15">119.98</text>
<text x="461.15" y="301.90" font-size="7.2" text-anchor="start" fill="#4d4d4d" font-weight="normal" textLength="10.30" lengthAdjust="spacingAndGlyphs" stroke="#4d4d4d" stroke-width="0.15">120</text>
<text x="492.00" y="301.90" font-size="7.2" text-anchor="start" fill="#4d4d4d" font-weight="normal" textLength="18.80" lengthAdjust="spacingAndGlyphs" stroke="#4d4d4d" stroke-width="0.15">120.02</text>
<text x="527.10" y="301.90" font-size="7.2" text-anchor="start" fill="#4d4d4d" font-weight="normal" textLength="18.80" lengthAdjust="spacingAndGlyphs" stroke="#4d4d4d" stroke-width="0.15">120.04</text>
<text x="418.60" y="318.42" font-size="7.0" text-anchor="middle" fill="#4d4d4d" font-weight="normal" stroke="#4d4d4d" stroke-width="0.15">Longitude</text>
<text x="0" y="0" font-size="7.0" text-anchor="middle" fill="#4d4d4d" stroke="#4d4d4d" stroke-width="0.15" transform="translate(300.30,237.57) rotate(-90)">Latitude</text>
<polyline points="354.51,280.30 356.09,280.05 361.00,278.94 363.28,278.43 373.46,276.74 385.22,274.52 390.66,272.83 401.54,270.83 411.37,268.45 415.76,265.73 422.95,262.46 430.15,257.06 437.17,252.04 447.52,247.15 454.19,240.86 486.13,217.79 503.15,203.55" fill="none" stroke="#4472C4" stroke-width="1.4" stroke-linejoin="round"/>
<g fill="#4472C4"><circle cx="354.51" cy="280.30" r="2.20"/><circle cx="355.16" cy="280.18" r="2.17"/><circle cx="356.09" cy="280.05" r="2.20"/><circle cx="361.00" cy="278.94" r="2.20"/><circle cx="362.27" cy="278.63" r="2.18"/><circle cx="363.28" cy="278.43" r="2.20"/><circle cx="363.86" cy="278.32" r="1.92"/><circle cx="366.06" cy="278.17" r="2.02"/><circle cx="367.22" cy="277.90" r="1.97"/><circle cx="368.15" cy="277.48" r="2.02"/><circle cx="369.89" cy="277.54" r="1.97"/><circle cx="372.06" cy="276.99" r="2.22"/><circle cx="373.46" cy="276.74" r="2.20"/><circle cx="374.14" cy="276.67" r="1.94"/><circle cx="374.81" cy="276.43" r="2.17"/><circle cx="376.38" cy="276.05" r="2.19"/><circle cx="378.50" cy="275.67" r="2.06"/><circle cx="380.25" cy="275.64" r="1.94"/><circle cx="381.81" cy="275.37" r="2.11"/><circle cx="383.61" cy="274.95" r="2.08"/><circle cx="384.74" cy="274.66" r="2.08"/><circle cx="385.22" cy="274.52" r="2.20"/><circle cx="386.58" cy="274.04" r="2.07"/><circle cx="388.47" cy="273.66" r="2.21"/><circle cx="390.05" cy="272.90" r="2.20"/><circle cx="390.66" cy="272.83" r="2.20"/><circle cx="391.95" cy="272.71" r="2.08"/><circle cx="393.40" cy="272.36" r="1.95"/><circle cx="395.17" cy="272.16" r="1.96"/><circle cx="397.03" cy="271.75" r="1.94"/><circle cx="397.79" cy="271.56" r="1.98"/><circle cx="398.97" cy="271.35" r="2.13"/><circle cx="400.83" cy="270.99" r="2.02"/><circle cx="401.54" cy="270.83" r="2.20"/><circle cx="402.12" cy="270.55" r="2.08"/><circle cx="403.92" cy="270.12" r="2.04"/><circle cx="406.07" cy="269.68" r="2.15"/><circle cx="407.74" cy="269.40" r="2.07"/><circle cx="409.28" cy="269.05" r="1.96"/><circle cx="411.37" cy="268.45" r="2.20"/><circle cx="415.76" cy="265.73" r="2.20"/><circle cx="422.95" cy="262.46" r="2.20"/><circle cx="430.15" cy="257.06" r="2.20"/><circle cx="437.17" cy="252.04" r="2.20"/><circle cx="447.52" cy="247.15" r="2.20"/><circle cx="454.19" cy="240.86" r="2.20"/><circle cx="455.26" cy="239.85" r="1.97"/><circle cx="456.16" cy="239.22" r="1.95"/><circle cx="457.57" cy="238.22" r="1.92"/><circle cx="459.43" cy="237.02" r="2.09"/><circle cx="460.60" cy="236.15" r="2.06"/><circle cx="461.48" cy="235.64" r="1.99"/><circle cx="462.14" cy="234.96" r="2.04"/><circle cx="464.01" cy="233.82" r="2.24"/><circle cx="465.01" cy="232.91" r="2.15"/><circle cx="466.02" cy="232.59" r="2.04"/><circle cx="466.75" cy="231.67" r="2.01"/><circle cx="468.72" cy="230.64" r="2.10"/><circle cx="469.33" cy="229.66" r="1.93"/><circle cx="470.45" cy="229.19" r="2.12"/><circle cx="472.17" cy="228.05" r="2.02"/><circle cx="473.52" cy="226.87" r="2.15"/><circle cx="474.46" cy="226.48" r="1.91"/><circle cx="475.67" cy="225.27" r="2.18"/><circle cx="476.56" cy="224.92" r="1.90"/><circle cx="478.03" cy="223.75" r="2.08"/><circle cx="478.74" cy="223.06" r="2.06"/><circle cx="479.53" cy="222.37" r="2.19"/><circle cx="480.84" cy="221.49" r="2.12"/><circle cx="482.19" cy="220.44" r="2.10"/><circle cx="483.51" cy="219.47" r="2.01"/><circle cx="485.32" cy="218.42" r="1.98"/><circle cx="486.13" cy="217.79" r="2.20"/><circle cx="486.96" cy="217.21" r="2.20"/><circle cx="487.42" cy="216.45" r="2.05"/><circle cx="488.01" cy="216.02" r="1.94"/><circle cx="488.79" cy="215.64" r="1.93"/><circle cx="490.12" cy="214.72" r="1.95"/><circle cx="491.48" cy="213.36" r="1.96"/><circle cx="493.22" cy="211.99" r="2.03"/><circle cx="494.67" cy="210.42" r="2.19"/><circle cx="496.25" cy="209.11" r="2.22"/><circle cx="497.97" cy="208.12" r="2.00"/><circle cx="499.38" cy="206.87" r="2.02"/><circle cx="499.74" cy="206.13" r="2.08"/><circle cx="500.98" cy="205.15" r="2.12"/><circle cx="501.68" cy="204.77" r="2.08"/><circle cx="502.35" cy="203.97" r="2.22"/><circle cx="503.15" cy="203.55" r="2.20"/></g>
<polyline points="365.04,274.87 371.71,273.29 375.92,272.40 385.57,270.44 390.66,269.43 401.89,267.05 411.89,264.88 420.67,262.79 425.58,259.23 428.92,255.48 438.04,250.30 457.17,238.40 482.27,218.43 484.73,216.51 503.15,201.85" fill="none" stroke="#ED7D31" stroke-width="1.4" stroke-linejoin="round"/>
<g fill="#ED7D31"><circle cx="365.04" cy="274.87" r="2.20"/><circle cx="365.54" cy="274.61" r="2.15"/><circle cx="366.51" cy="274.68" r="1.99"/><circle cx="367.17" cy="274.34" r="1.96"/><circle cx="367.86" cy="274.10" r="2.06"/><circle cx="368.90" cy="274.11" r="2.01"/><circle cx="370.62" cy="273.48" r="1.94"/><circle cx="375.92" cy="272.40" r="2.20"/><circle cx="377.15" cy="272.15" r="2.12"/><circle cx="377.99" cy="271.82" r="1.95"/><circle cx="379.51" cy="271.83" r="2.03"/><circle cx="381.42" cy="271.11" r="1.98"/><circle cx="383.22" cy="271.05" r="2.18"/><circle cx="384.11" cy="270.76" r="1.98"/><circle cx="385.57" cy="270.44" r="2.20"/><circle cx="390.66" cy="269.43" r="2.20"/><circle cx="391.79" cy="269.27" r="2.17"/><circle cx="394.00" cy="268.70" r="2.25"/><circle cx="395.17" cy="268.64" r="1.94"/><circle cx="396.98" cy="268.26" r="2.09"/><circle cx="398.23" cy="267.97" r="2.19"/><circle cx="399.98" cy="267.38" r="2.08"/><circle cx="400.69" cy="267.31" r="2.01"/><circle cx="401.89" cy="267.05" r="2.20"/><circle cx="402.40" cy="266.91" r="1.94"/><circle cx="403.67" cy="266.88" r="2.17"/><circle cx="405.31" cy="266.24" r="1.93"/><circle cx="406.06" cy="266.16" r="2.24"/><circle cx="407.86" cy="265.62" r="2.24"/><circle cx="408.88" cy="265.33" r="2.08"/><circle cx="410.27" cy="265.04" r="2.22"/><circle cx="411.44" cy="264.93" r="1.91"/><circle cx="411.89" cy="264.88" r="2.20"/><circle cx="413.44" cy="264.72" r="2.12"/><circle cx="414.12" cy="264.19" r="1.95"/><circle cx="414.88" cy="264.30" r="2.06"/><circle cx="415.56" cy="263.90" r="2.06"/><circle cx="417.07" cy="263.66" r="1.95"/><circle cx="418.95" cy="263.02" r="2.05"/><circle cx="420.67" cy="262.79" r="2.20"/><circle cx="425.58" cy="259.23" r="2.20"/><circle cx="428.92" cy="255.48" r="2.20"/><circle cx="438.04" cy="250.30" r="2.20"/><circle cx="457.17" cy="238.40" r="2.20"/><circle cx="457.53" cy="237.85" r="2.25"/><circle cx="458.99" cy="236.78" r="2.13"/><circle cx="459.84" cy="236.46" r="1.91"/><circle cx="460.36" cy="235.71" r="2.12"/><circle cx="462.00" cy="234.42" r="2.17"/><circle cx="463.12" cy="233.64" r="2.14"/><circle cx="464.04" cy="233.05" r="2.02"/><circle cx="464.76" cy="232.44" r="2.08"/><circle cx="465.45" cy="232.07" r="2.17"/><circle cx="466.51" cy="231.13" r="2.17"/><circle cx="466.90" cy="230.41" r="2.07"/><circle cx="468.14" cy="229.77" r="1.96"/><circle cx="468.78" cy="229.09" r="2.25"/><circle cx="469.51" cy="228.83" r="2.11"/><circle cx="470.27" cy="227.75" r="2.05"/><circle cx="471.35" cy="226.87" r="2.04"/><circle cx="473.30" cy="225.82" r="2.15"/><circle cx="474.31" cy="224.96" r="1.91"/><circle cx="475.72" cy="223.76" r="1.95"/><circle cx="476.64" cy="222.86" r="2.18"/><circle cx="477.88" cy="221.77" r="2.19"/><circle cx="479.19" cy="221.04" r="2.03"/><circle cx="480.03" cy="220.11" r="1.96"/><circle cx="481.63" cy="219.02" r="2.04"/><circle cx="484.73" cy="216.51" r="2.20"/><circle cx="485.84" cy="215.89" r="1.95"/><circle cx="486.48" cy="215.33" r="2.23"/><circle cx="487.84" cy="214.05" r="2.24"/><circle cx="489.38" cy="212.58" r="2.14"/><circle cx="490.99" cy="211.41" r="2.18"/><circle cx="492.73" cy="210.14" r="2.05"/><circle cx="494.10" cy="209.23" r="2.13"/><circle cx="495.80" cy="207.70" r="2.01"/><circle cx="496.59" cy="207.19" r="2.09"/><circle cx="497.97" cy="206.25" r="2.20"/><circle cx="499.36" cy="204.94" r="1.99"/><circle cx="500.47" cy="203.89" r="2.07"/><circle cx="502.32" cy="202.55" r="2.18"/><circle cx="503.15" cy="201.85" r="2.20"/></g>
<line x1="372.0" y1="331.3" x2="387.3" y2="331.3" stroke="#4472C4" stroke-width="1.4"/>
<circle cx="379.6" cy="331.3" r="2.0" fill="#4472C4"/>
<text x="388.40" y="333.54" font-size="6.3" text-anchor="start" fill="#4d4d4d" font-weight="normal" textLength="20.00" lengthAdjust="spacingAndGlyphs" stroke="#4d4d4d" stroke-width="0.1">DLSTM</text>
<line x1="416.3" y1="331.3" x2="432.0" y2="331.3" stroke="#ED7D31" stroke-width="1.4"/>
<circle cx="424.4" cy="331.3" r="2.0" fill="#ED7D31"/>
<text x="433.10" y="333.54" font-size="6.3" text-anchor="start" fill="#4d4d4d" font-weight="normal" textLength="34.50" lengthAdjust="spacingAndGlyphs" stroke="#4d4d4d" stroke-width="0.1">Observation</text>
<text y="346.20" font-size="9" fill="#404040" stroke="#404040" stroke-width="0.4"><tspan x="407.05">(</tspan><tspan x="409.91" dy="-0.1" font-size="8.0" font-weight="bold" stroke-width="0.2">d</tspan><tspan x="414.87" dy="0.1">)</tspan></text>
</g>
</svg>
</body></html>
